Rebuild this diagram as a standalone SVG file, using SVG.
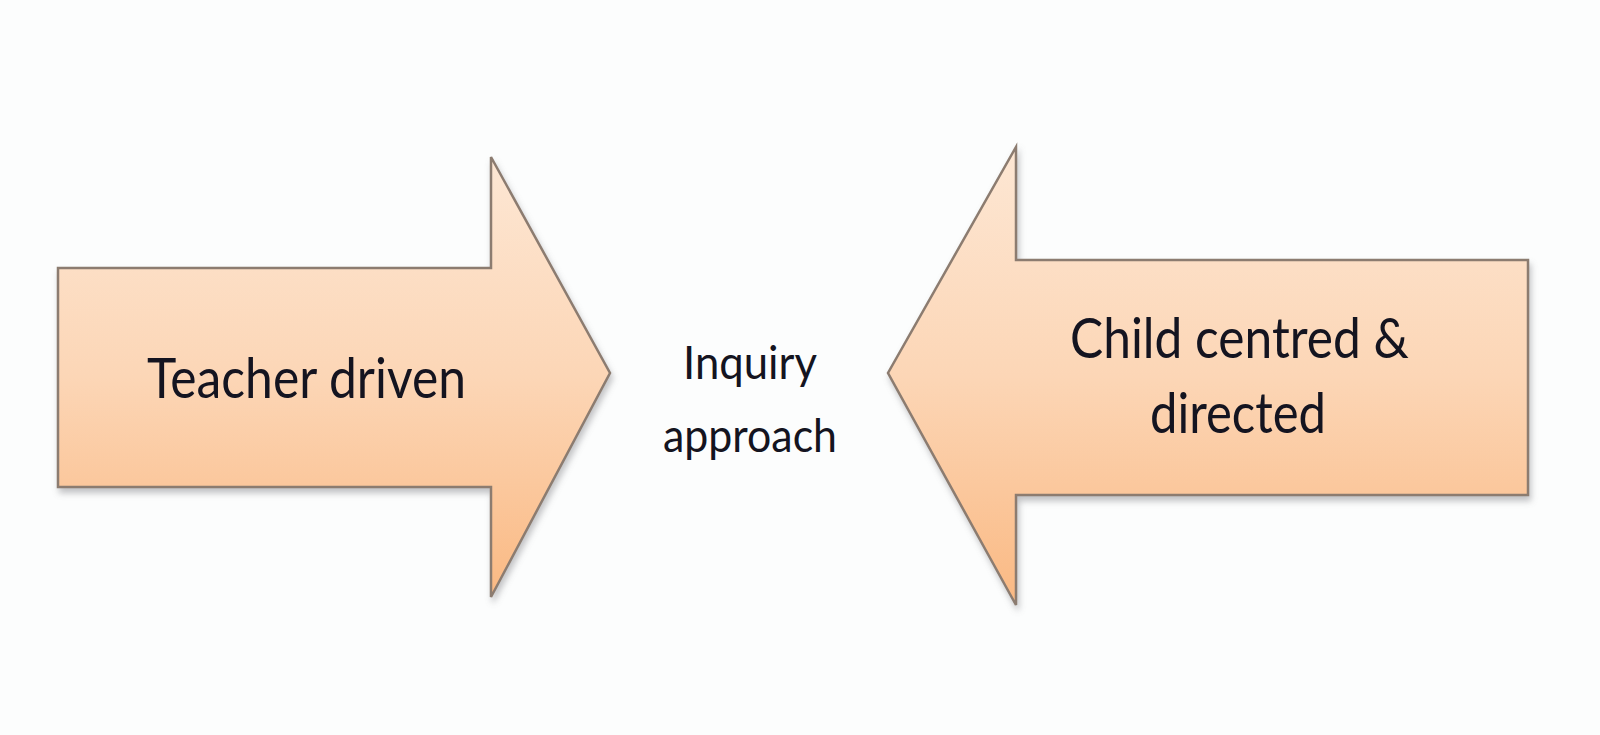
<svg xmlns="http://www.w3.org/2000/svg" width="1600" height="735" viewBox="0 0 1600 735">
  <style>
    .arrow { stroke: #8c7c70; stroke-width: 2.5; stroke-linejoin: miter; filter: url(#shadow); }
    .big { font-family: Lato, "Open Sans", "Liberation Sans", sans-serif; font-size: 56px; fill: #141420; }
    .mid { font-family: Lato, "Open Sans", "Liberation Sans", sans-serif; font-size: 46px; fill: #141420; }
  </style>
  <defs>
    <linearGradient id="peach" x1="0" y1="0" x2="0" y2="1">
      <stop offset="0" stop-color="#fde7d4"/>
      <stop offset="0.5" stop-color="#fcd6b6"/>
      <stop offset="1" stop-color="#fab983"/>
    </linearGradient>
    <filter id="shadow" x="-5%" y="-5%" width="112%" height="115%">
      <feDropShadow dx="2" dy="5" stdDeviation="3" flood-color="#7a7a80" flood-opacity="0.45"/>
    </filter>
  </defs>
  <rect width="1600" height="735" fill="#fcfdfd"/>
  <g id="connectors"/>
  <g id="teacher-driven">
    <path class="arrow" fill="url(#peach)" d="M58,268 L491,268 L491,157 L610,373 L491,597 L491,487 L58,487 Z"/>
    <text class="big" x="147" y="398" textLength="319" lengthAdjust="spacingAndGlyphs">Teacher driven</text>
  </g>
  <g id="inquiry-approach">
    <text class="mid" x="683" y="379" textLength="134" lengthAdjust="spacingAndGlyphs">Inquiry</text>
    <text class="mid" x="663" y="452" textLength="174" lengthAdjust="spacingAndGlyphs">approach</text>
  </g>
  <g id="child-centred">
    <path class="arrow" fill="url(#peach)" d="M1528,260 L1016,260 L1016,147 L888,373 L1016,605 L1016,495 L1528,495 Z"/>
    <text class="big" x="1070" y="358" textLength="339" lengthAdjust="spacingAndGlyphs">Child centred &amp;</text>
    <text class="big" x="1150" y="433" textLength="176" lengthAdjust="spacingAndGlyphs">directed</text>
  </g>
</svg>
